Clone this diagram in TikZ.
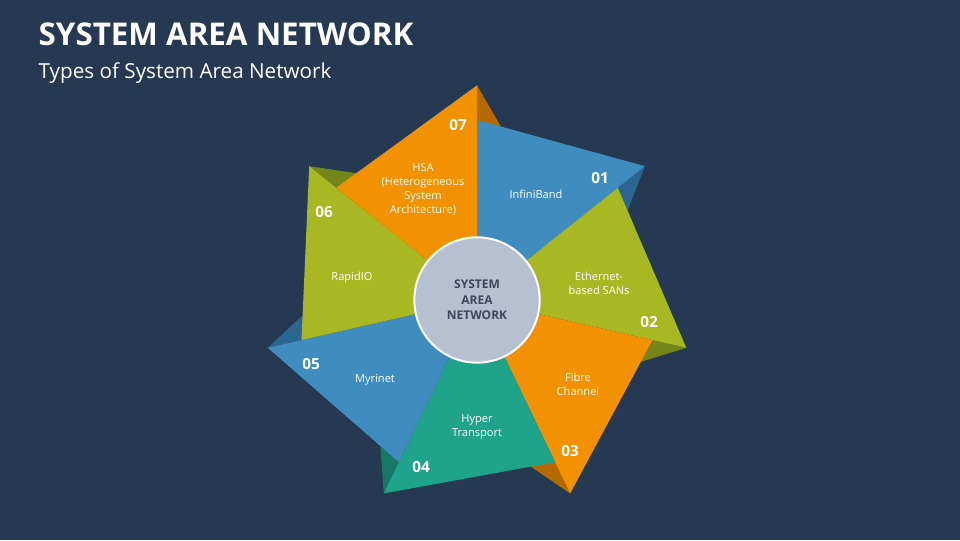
\documentclass[tikz,border=0pt]{standalone}
\usepackage{fontspec}
\setmainfont{Open Sans}
\usetikzlibrary{calc}
\definecolor{bg}{HTML}{253A52}
\definecolor{cblue}{HTML}{3E8DBE}
\definecolor{cgreen}{HTML}{A8B823}
\definecolor{corange}{HTML}{F39200}
\definecolor{cteal}{HTML}{1FA38A}
\definecolor{dblue}{HTML}{2A6690}
\definecolor{dgreen}{HTML}{76851A}
\definecolor{dorange}{HTML}{B56A00}
\definecolor{dteal}{HTML}{147A66}
\definecolor{ccirc}{HTML}{B5C0D1}
\definecolor{ctext}{HTML}{3A4A5E}
\tikzset{
 num/.style={text=white,font=\bfseries\fontsize{11.5}{13}\selectfont},
 lab/.style={text=white,font=\fontsize{8.3}{10.5}\selectfont,align=center},
}
\begin{document}
\begin{tikzpicture}[x=0.75pt,y=0.75pt]
\fill[bg] (0,0) rectangle (960,-540);
\useasboundingbox (0,0) rectangle (960,-540);
\node[anchor=west,text=white,font=\bfseries\fontsize{23.5}{26}\selectfont] (title) at (34,-34) {SYSTEM AREA NETWORK};
\node[anchor=west,text=white,font=\fontsize{15.5}{18}\selectfont] (sub) at (34,-73) {Types of System Area Network};
\coordinate (O) at (477,-300);
\foreach \k in {0,...,6}{
  \pgfmathsetmacro{\a}{90-\k*360/7}
  \coordinate (T\k) at ($(O)+(\a:161pt)$);
  \coordinate (R\k) at ($(O)+(\a:135pt)$);
  \pgfmathsetmacro{\b}{\a-9}
  \coordinate (F\k) at ($(O)+(\b:128pt)$);
}
\fill[dorange] (T0)--(R0)--(F0)--cycle;
\fill[dblue] (T1)--(R1)--(F1)--cycle;
\fill[dgreen] (T2)--(R2)--(F2)--cycle;
\fill[dorange] (T3)--(R3)--(F3)--cycle;
\fill[dteal] (T4)--(R4)--(F4)--cycle;
\fill[dblue] (T5)--(R5)--(F5)--cycle;
\fill[dgreen] (T6)--(R6)--(F6)--cycle;
\fill[cblue] (O)--(R0)--(T1)--cycle;
\fill[cgreen] (O)--(R1)--(T2)--cycle;
\fill[corange] (O)--(R2)--(T3)--cycle;
\fill[cteal] (O)--(R3)--(T4)--cycle;
\fill[cblue] (O)--(R4)--(T5)--cycle;
\fill[cgreen] (O)--(R5)--(T6)--cycle;
\fill[corange] (O)--(R6)--(T0)--cycle;
\node[circle,fill=ccirc,draw=white,line width=1.5pt,minimum size=94pt,text=ctext,font=\bfseries\fontsize{9}{11.5}\selectfont,align=center] (c) at (O) {SYSTEM\\AREA\\NETWORK};
\node[num] (n1) at (600,-178) {01};
\node[lab] (l1) at (536,-194) {InfiniBand};
\node[lab] (l2) at (599,-283) {Ethernet-\\based SANs};
\node[num] (n2) at (649,-322) {02};
\node[lab] (l3) at (578,-384) {Fibre\\Channel};
\node[num] (n3) at (570,-451) {03};
\node[lab] (l4) at (477,-427) {Hyper\\Transport};
\node[num] (n4) at (421,-467) {04};
\node[lab] (l5) at (375,-380) {Myrinet};
\node[num] (n5) at (311,-364) {05};
\node[lab] (l6) at (352,-278) {RapidIO};
\node[num] (n6) at (324,-212) {06};
\node[lab] (l7) at (423,-189) {HSA\\(Heterogeneous\\System\\Architecture)};
\node[num] (n7) at (458,-125) {07};
\end{tikzpicture}
\end{document}
